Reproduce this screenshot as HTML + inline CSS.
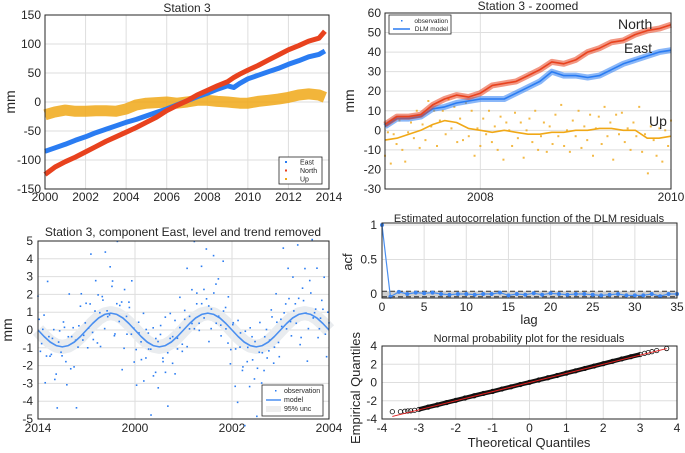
<!DOCTYPE html>
<html><head><meta charset="utf-8"><style>
html,body{margin:0;padding:0;background:#fff;}
svg{display:block;font-family:"Liberation Sans",sans-serif;}
</style></head><body>
<svg id="fig" width="685" height="453" viewBox="0 0 685 453" xmlns="http://www.w3.org/2000/svg"></svg>
<script>
// ---------- DATA ----------
const p1Years=[2000,2000.5,2001,2001.5,2002,2002.5,2003,2003.5,2004,2004.5,2005,2005.5,2006,2006.5,2007,2007.5,2008,2008.5,2009,2009.3,2009.6,2010,2010.5,2011,2011.5,2012,2012.5,2013,2013.5,2013.8];
const p1East=[-85,-79,-73,-66,-60,-53,-47,-41,-35,-30,-24,-18,-12,-5,2,9,15,22,28,25,32,40,46,52,58,65,71,78,82,88];
const p1North=[-125,-112,-103,-95,-86,-77,-68,-60,-52,-44,-35,-26,-15,-6,2,12,20,28,35,42,48,55,63,72,81,90,97,105,110,122];
const p1Up=[-22,-17,-14,-16,-16,-15,-15,-16,-12,-5,-2,-1,0,-2,0,3,3,1,0,-1,-2,-2,1,3,5,8,12,14,12,8];
const p1XTicks=[2000,2002,2004,2006,2008,2010,2012,2014];
const p1YTicks=[-150,-100,-50,0,50,100,150];
const p2Years=[2007,2007.125,2007.25,2007.375,2007.5,2007.625,2007.75,2007.875,2008,2008.125,2008.25,2008.375,2008.5,2008.625,2008.75,2008.875,2009,2009.125,2009.25,2009.375,2009.5,2009.625,2009.75,2009.875,2010];
const p2North=[3,7,7,8,13,16,18,17,19,23,24,25,28,31,35,34,36,40,42,45,46,49,51,52,54];
const p2East=[2,6,6,7,11,12,14,15,16,16,16,19,22,25,30,28,28,27,28,31,34,36,38,40,41];
const p2Up=[-5,-4,-2,0,3,5,4,1,0,-1,0,-1,-2,-2,-1,-1,0,0,1,1,0,0,-4,-4,-3];
const p2UpObs=[-8,4,-12,2,-3,9,-6,-14,1,6,-2,10,-9,3,-5,12,-1,7,-11,0,5,-7,11,-3,8,-10,2,-6,13,-4,9,-13,1,-8,6,-2,11,-5,3,-9,7,-15,4,0,-7,10,-3,5,-12,2,8,-4,12,-8,-1,6,-10,3,-6,9,-2,14,-7,1,-11,5,-3,10,-9,2,-5,8,-13,0,6,-8,11,-4,3,-16,7,-2,9,-6,1,-10,4,-3,12,-7,2,-18,6,-1,-9,5,-12,3,-5,8];
const p2YTicks=[-30,-20,-10,0,10,20,30,40,50,60];
const p2XTicks=[2008,2010];
const p3XLabels=["2014","2000","2002","2004"];
const p3YTicks=[-5,-4,-3,-2,-1,0,1,2,3,4,5];
const p3Cycle=[0,-0.364,-0.672,-0.878,-0.95,-0.878,-0.672,-0.364,0,0.364,0.672,0.878,0.95,0.878,0.672,0.364];
const p3Model=[].concat(p3Cycle,p3Cycle,p3Cycle,[0]);
const p3ModelT=p3Model.map((v,i)=>i/16);
const p3Obs=[1.9,-1.2,0.4,-2.6,3.4,-0.8,0.2,-1.9,-3.5,0.9,-0.5,1.1,-2.2,2.9,0.3,-1.4,-3.7,0.6,2.4,-0.3,1.5,0.1,3.9,-0.9,2.1,1.3,-1.6,0.8,3.5,-0.2,2.6,1.8,-1.1,4.1,0.5,-2.9,1.6,-0.6,0.9,2.4,-1.8,-3.1,0.2,-1.3,-2.5,0.7,-0.4,-3.9,-1.7,0.4,-2.3,1.2,-0.9,-1.5,-3.4,1.6,0.3,-2.1,-0.7,2.2,-1.2,0.6,3.1,-0.3,1.9,4.3,0.8,-0.5,2.7,1.4,3.6,0.4,-0.8,3.3,1.7,2.2,-0.4,3.5,0.9,-1.1,-1.9,0.3,-2.8,-3.7,-0.6,-1.6,-4.7,-0.9,-2.3,0.5,-1.8,-3.9,-0.3,-2.1,-1.4,0.7,-0.5,1.8,-1.5,2.4,-0.7,0.6,4.6,1.1,3.1,-0.2,2.3,0.8,3.9,-1.7,1.4,2.5,-2.7,1.9,4.2,0.3,2.8,-0.6,1.3,2.6,-1.5,0.4];
const p3Obs2=[0.6,-0.4,1.2,-1.1,0.3,-0.7,0.9,-1.6,0.2,-0.3,1.4,-0.9,0.5,-1.3,0.8,0.1,-0.6,1.7,-0.2,0.4,-1.0,1.1,-0.5,0.7,-1.4,0.3,1.0,-0.8,0.2,-0.1,1.5,-1.2,0.6,-0.4,0.9,-1.7,0.4,1.2,-0.6,0.1,-1.1,0.8,-0.3,1.3,-0.9,0.5,-0.2,1.0,-1.5,0.3,0.7,-0.7,1.6,-0.4,0.2,-1.2,0.9,-0.1,0.5,-0.8,1.1,-1.3,0.4,0.0,-0.6,1.4,-0.9,0.6,-0.2,0.8,-1.6,0.3,1.2,-0.5,0.1,-1.0,0.7,-0.3,1.5,-1.1,0.4,-0.7,0.9,0.2,-1.4,0.6,-0.1,1.0,-0.8,0.3,-1.2,1.3,-0.4,0.5,-0.9,0.1,1.1,-0.6,0.8,-1.5,0.2,0.6,-0.3,1.4,-1.0,0.4,-0.5,0.9,-1.3,0.7,0.0,-0.8,1.2,-0.2,0.5,-1.1,0.3,0.8,-0.6,1.0];
const p3ObsT=p3Obs.map((v,i)=>i*3/(p3Obs.length-1));
const p3Obs2T=p3Obs2.map((v,i)=>(i+0.5)*3/p3Obs2.length);
const acfLags=[0,1,2,3,4,5,6,7,8,9,10,11,12,13,14,15,16,17,18,19,20,21,22,23,24,25,26,27,28,29,30,31,32,33,34,35];
const acfVals=[1,-0.04,0.03,0.0,0.02,0.01,0.02,0.0,-0.01,0.0,0.0,-0.01,0.0,0.0,0.02,-0.02,0.0,-0.01,0.01,-0.01,0.01,0.0,-0.01,0.0,0.0,-0.01,-0.02,-0.01,0.0,-0.02,-0.02,-0.02,0.0,-0.03,0.0,0.0];
const acfXTicks=[0,5,10,15,20,25,30,35];
const acfYTicks=[0,0.5,1];
const qqTheo=[-3.72,-3.5,-3.38,-3.3,-3.22,-3.12,-3.0,-2.75,-2.5,-2.25,-2.0,-1.75,-1.5,-1.25,-1.0,-0.75,-0.5,-0.25,0,0.25,0.5,0.75,1.0,1.25,1.5,1.75,2.0,2.25,2.5,2.75,3.0,3.12,3.22,3.32,3.45,3.72];
const qqEmp=[-3.2,-3.2,-3.15,-3.12,-3.1,-3.05,-2.95,-2.7,-2.45,-2.2,-1.95,-1.7,-1.45,-1.2,-0.97,-0.72,-0.47,-0.22,0.02,0.27,0.52,0.77,1.03,1.28,1.54,1.8,2.06,2.32,2.58,2.83,3.07,3.2,3.28,3.38,3.5,3.72];
const qqTicks=[-4,-3,-2,-1,0,1,2,3,4];
const qqYTicks=[-4,-2,0,2,4];

// ---------- HELPERS ----------
const NS="http://www.w3.org/2000/svg";
const fig=document.getElementById('fig');
function mk(tag,attrs,parent){const e=document.createElementNS(NS,tag);for(const k in attrs)e.setAttribute(k,attrs[k]);(parent||fig).appendChild(e);return e;}
function lin(d0,d1,r0,r1){return v=>r0+(v-d0)*(r1-r0)/(d1-d0);}
function txt(x,y,s,size,anchor,parent){const t=mk('text',{x:x,y:y,'font-size':size,'text-anchor':anchor||'middle',fill:'#262626'},parent);t.textContent=s;return t;}
function pts(xs,ys,X,Y){return xs.map((v,i)=>X(v).toFixed(1)+','+Y(ys[i]).toFixed(1)).join(' ');}
const BLUE='#2a7cf2',RED='#e8421e',ORG='#f0a817';

// ---------- PANEL 1 ----------
(function(){
const g=mk('g',{});


const L=45,R=329,T=15,B=189;
const X=lin(2000,2014,L,R),Y=lin(-150,150,B,T);
p1XTicks.forEach(v=>{mk('line',{x1:X(v),x2:X(v),y1:T,y2:B,stroke:'#dedede','stroke-width':1},g);const t=txt(X(v),201,v,12,'middle',g);});
p1YTicks.forEach(v=>{mk('line',{x1:L,x2:R,y1:Y(v),y2:Y(v),stroke:'#dedede','stroke-width':1},g);const t=txt(L-4,Y(v)+4,v,12,'end',g);});
const up=mk('polyline',{points:pts(p1Years,p1Up,X,Y),fill:'none',stroke:ORG,'stroke-width':11,'stroke-opacity':0.85,'stroke-linejoin':'round'},g);

const e=mk('polyline',{points:pts(p1Years,p1East,X,Y),fill:'none',stroke:BLUE,'stroke-width':5,'stroke-linejoin':'round'},g);

const n=mk('polyline',{points:pts(p1Years,p1North,X,Y),fill:'none',stroke:RED,'stroke-width':5,'stroke-linejoin':'round'},g);

mk('rect',{x:L,y:T,width:R-L,height:B-T,fill:'none',stroke:'#262626','stroke-width':1},g);
const tt=txt((L+R)/2,12,'Station 3',12,'middle',g);
const yl=txt(0,0,'mm',14,'middle',g);yl.setAttribute('transform','translate(15,102) rotate(-90)');
const lg=mk('g',{},g);
mk('rect',{x:279,y:157,width:43,height:27,fill:'#fff',stroke:'#262626','stroke-width':0.8},lg);
[['East',BLUE],['North',RED],['Up',ORG]].forEach((d,i)=>{mk('rect',{x:285,y:161+i*8.5,width:2,height:2,fill:d[1]},lg);const t=txt(300,164.5+i*8.5,d[0],7,'start',lg);});
})();

// ---------- PANEL 2 ----------
(function(){
const g=mk('g',{});


const L=385,R=671,T=13,B=189;
const X=lin(2007,2010,L,R),Y=lin(-30,60,B,T);
p2YTicks.forEach(v=>{mk('line',{x1:L,x2:R,y1:Y(v),y2:Y(v),stroke:'#dedede','stroke-width':1},g);const t=txt(L-4,Y(v)+4,v,12,'end',g);});
p2XTicks.forEach(v=>{mk('line',{x1:X(v),x2:X(v),y1:T,y2:B,stroke:'#dedede','stroke-width':1},g);const t=txt(X(v),201,v,12,'middle',g);});
p2UpObs.forEach((v,i)=>{const tx=2007+i*3/(p2UpObs.length-1);const base=p2Up[Math.round((tx-2007)*8)];const d=mk('rect',{x:X(tx)-1,y:Y(base+v)-1,width:2,height:2,fill:ORG,opacity:0.8},g);});
[[p2East,BLUE,'east'],[p2North,RED,'north']].forEach(s=>{const o=mk('polyline',{points:pts(p2Years,s[0],X,Y),fill:'none',stroke:s[1],'stroke-width':6,'stroke-opacity':0.55,'stroke-linejoin':'round'},g);
const m=mk('polyline',{points:pts(p2Years,s[0],X,Y),fill:'none',stroke:s[1],'stroke-width':1.6,'stroke-linejoin':'round'},g);});
const um=mk('polyline',{points:pts(p2Years,p2Up,X,Y),fill:'none',stroke:ORG,'stroke-width':1.6,'stroke-linejoin':'round'},g);
mk('rect',{x:L,y:T,width:R-L,height:B-T,fill:'none',stroke:'#262626','stroke-width':1},g);
const tt=txt((L+R)/2,10,'Station 3 - zoomed',12,'middle',g);
const yl=txt(0,0,'mm',14,'middle',g);yl.setAttribute('transform','translate(354,101) rotate(-90)');
[['North',618,29],['East',624,53],['Up',649,126]].forEach(d=>{const t=txt(d[1],d[2],d[0],14,'start',g);});
const lg=mk('g',{},g);
mk('rect',{x:389,y:15,width:62,height:19,fill:'#fff',stroke:'#262626','stroke-width':0.8},lg);
mk('rect',{x:401,y:20,width:1.5,height:1.5,fill:BLUE},lg);
mk('line',{x1:393,x2:410,y1:29,y2:29,stroke:BLUE,'stroke-width':1.5},lg);
const a=txt(448,23,'observation',6.5,'end',lg);
const b=txt(448,31,'DLM model',6.5,'end',lg);
})();

// ---------- PANEL 3 ----------
(function(){
const g=mk('g',{});


const L=38,R=329,T=241,B=419;
const X=lin(0,3,L,R),Y=lin(-5,5,B,T);
p3YTicks.forEach(v=>{mk('line',{x1:L,x2:R,y1:Y(v),y2:Y(v),stroke:'#dedede','stroke-width':1},g);const t=txt(L-5,Y(v)+4,v,12,'end',g);});
p3XLabels.forEach((s,i)=>{mk('line',{x1:X(i),x2:X(i),y1:T,y2:B,stroke:'#dedede','stroke-width':1},g);const t=txt(X(i),432,s,12,'middle',g);});
const band=mk('polyline',{points:pts(p3ModelT,p3Model,X,Y),fill:'none',stroke:'#e9ecef','stroke-width':14,'stroke-linejoin':'round'},g);

[[p3Obs,p3ObsT],[p3Obs2,p3Obs2T]].forEach(s=>{s[0].forEach((v,i)=>{const t=s[1][i];const k=Math.min(48,Math.round(t*16));const d=mk('rect',{x:X(t)-0.8,y:Y(p3Model[k]+v)-0.8,width:1.6,height:1.6,fill:BLUE},g);});});
const m=mk('polyline',{points:pts(p3ModelT,p3Model,X,Y),fill:'none',stroke:'#4a8ff0','stroke-width':1.6,'stroke-linejoin':'round'},g);

mk('rect',{x:L,y:T,width:R-L,height:B-T,fill:'none',stroke:'#262626','stroke-width':1},g);
const tt=txt(183,236,'Station 3, component East, level and trend removed',12,'middle',g);
const yl=txt(0,0,'mm',14,'middle',g);yl.setAttribute('transform','translate(12,330) rotate(-90)');
const lg=mk('g',{},g);
mk('rect',{x:262,y:385,width:61,height:31,fill:'#fff',stroke:'#262626','stroke-width':0.8},lg);
mk('rect',{x:275,y:390,width:1.5,height:1.5,fill:BLUE},lg);
mk('line',{x1:266,x2:281,y1:400,y2:400,stroke:'#4a8ff0','stroke-width':1.5},lg);
mk('rect',{x:266,y:406,width:15,height:6,fill:'#eeeeee'},lg);
[['observation',393],['model',402],['95% unc',411]].forEach(d=>{const t=txt(284,d[1],d[0],7,'start',lg);});
})();

// ---------- PANEL 4: ACF ----------
(function(){
const g=mk('g',{});


const L=382,R=677,T=223,B=298;
const X=lin(0,35,L,R),Y=lin(0,1,294,225);
acfXTicks.forEach(v=>{mk('line',{x1:X(v),x2:X(v),y1:T,y2:B,stroke:'#dedede','stroke-width':1},g);const t=txt(X(v),311,v,12,'middle',g);});
acfYTicks.forEach(v=>{mk('line',{x1:L,x2:R,y1:Y(v),y2:Y(v),stroke:'#dedede','stroke-width':1},g);const t=txt(L-5,Y(v)+4,v,12,'end',g);});
mk('rect',{x:L,y:Y(0.04),width:R-L,height:Y(-0.04)-Y(0.04),fill:'#cfcfcf'},g);
[0.04,-0.04].forEach(c=>{const l=mk('line',{x1:L,x2:R,y1:Y(c),y2:Y(c),stroke:'#333','stroke-width':1,'stroke-dasharray':'5,3'},g);});
const ln=mk('polyline',{points:pts(acfLags,acfVals,X,Y),fill:'none',stroke:'#4a8ff0','stroke-width':1.2},g);

acfLags.forEach((v,i)=>{const c=mk('circle',{cx:X(v),cy:Y(acfVals[i]),r:2,fill:'#3d86f2'},g);});
mk('rect',{x:L,y:T,width:R-L,height:B-T,fill:'none',stroke:'#262626','stroke-width':1},g);
const tt=txt(529,222,'Estimated autocorrelation function of the DLM residuals',11,'middle',g);
const yl=txt(0,0,'acf',13,'middle',g);yl.setAttribute('transform','translate(352,262) rotate(-90)');
const xl=txt(529,324,'lag',13,'middle',g);
})();

// ---------- PANEL 5: QQ ----------
(function(){
const g=mk('g',{});


const L=382,R=677,T=346,B=419;
const X=lin(-4,4,L,R),Y=lin(-4,4,B,T);
qqTicks.forEach(v=>{mk('line',{x1:X(v),x2:X(v),y1:T,y2:B,stroke:'#dedede','stroke-width':1},g);const t=txt(X(v),432,v,12,'middle',g);});
qqYTicks.forEach(v=>{mk('line',{x1:L,x2:R,y1:Y(v),y2:Y(v),stroke:'#dedede','stroke-width':1},g);const t=txt(L-5,Y(v)+4,v,12,'end',g);});
const band=mk('polyline',{points:pts(qqTheo.slice(6,31),qqEmp.slice(6,31),X,Y),fill:'none',stroke:'#111','stroke-width':4.5},g);

qqTheo.forEach((v,i)=>{const c=mk('circle',{cx:X(v),cy:Y(qqEmp[i]),r:2.2,fill:'none',stroke:'#111','stroke-width':0.8},g);});
const rl=mk('line',{x1:X(-3.72),y1:Y(-3.72),x2:X(3.72),y2:Y(3.72),stroke:'#e02020','stroke-width':1},g);

mk('rect',{x:L,y:T,width:R-L,height:B-T,fill:'none',stroke:'#262626','stroke-width':1},g);
const tt=txt(529,342,'Normal probability plot for the residuals',11,'middle',g);
const yl=txt(0,0,'Empirical Quantiles',13,'middle',g);yl.setAttribute('transform','translate(360,388) rotate(-90)');
const xl=txt(529,447,'Theoretical Quantiles',13,'middle',g);
})();
</script>
</body></html>
